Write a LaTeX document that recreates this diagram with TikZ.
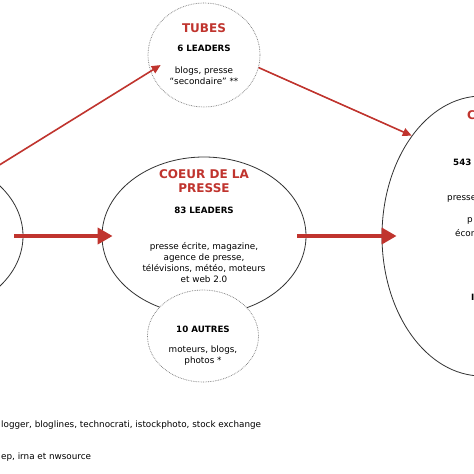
\documentclass[tikz,border=0pt]{standalone}
\usepackage{fontspec}
\setmainfont{DejaVu Sans}
\usepackage{tikz}
\usetikzlibrary{arrows.meta,shapes,calc}
\definecolor{leadred}{RGB}{192,52,46}

\begin{document}
\begin{tikzpicture}[x=1pt, y=-1pt,
        bubble/.style = {ellipse, draw=black!80, line width=0.8pt, inner sep=0pt},
        dotbubble/.style = {ellipse, draw=black!55, densely dotted, line width=0.7pt, fill=white, inner sep=0pt},
        titre/.style = {text=leadred, font=\bfseries\fontsize{12}{13.5}\selectfont, align=center},
        nombre/.style = {font=\bfseries\fontsize{8.7}{10}\selectfont},
        liste/.style = {font=\fontsize{8.8}{11}\selectfont, align=center},
        grosse/.style = {draw=leadred, line width=4pt, -{Triangle[length=15pt,width=16pt]}},
        fine/.style = {draw=leadred, line width=1.6pt, -{Triangle[length=9pt,width=8pt]}}]
          	 \useasboundingbox (0,0) rectangle (474,474);
          	 \clip (0,0) rectangle (474,474);
          	 \fill[white] (0,0) rectangle (474,474);

          	 % les bulles
          	 \node[bubble, minimum width=204pt, minimum height=158pt] (source) at (-79,236) {};
          	 \node[bubble, minimum width=204pt, minimum height=158pt] (coeur) at (204,236) {};
          	 \node[bubble, minimum width=200pt, minimum height=280pt] (cible) at (482,236) {};
          	 \node[dotbubble, minimum width=112pt, minimum height=104pt] (tubes) at (204,55) {};
          	 \node[dotbubble, minimum width=111pt, minimum height=92pt] (autres) at (203,336) {};

          	 % textes
          	 \node[titre] (tubes-t) at (204,28) {TUBES};
          	 \node[nombre] (tubes-n) at (204,48) {6 LEADERS};
          	 \node[liste] (tubes-l) at (204,76) {blogs, presse\\``secondaire'' **};

          	 \node[titre] (coeur-t) at (204,181) {COEUR DE LA\\PRESSE};
          	 \node[nombre] (coeur-n) at (204,210) {83 LEADERS};
          	 \node[liste] (coeur-l) at (204,263) {presse écrite, magazine,\\agence de presse,\\télévisions, météo, moteurs\\et web 2.0};

          	 \node[nombre] (autres-n) at (203,329) {10 AUTRES};
          	 \node[liste] (autres-l) at (203,356) {moteurs, blogs,\\photos *};

          	 \node[titre, anchor=west, inner sep=0pt] (cible-t) at (467,115) {C};
          	 \node[nombre, anchor=west, inner sep=0pt] (cible-n) at (453,162) {543};
          	 \node[liste, anchor=west, inner sep=0pt] (cible-a) at (447,199) {presse};
          	 \node[liste, anchor=west, inner sep=0pt] (cible-b) at (467,221) {p};
          	 \node[liste, anchor=west, inner sep=0pt] (cible-c) at (455,233) {écon};
          	 \node[nombre, anchor=west, inner sep=0pt] (cible-d) at (471,297) {I};

          	 \node[liste, anchor=west, inner sep=0pt] (note1) at (1,425) {logger, bloglines, technocrati, istockphoto, stock exchange};
          	 \node[liste, anchor=west, inner sep=0pt] (note2) at (1,457) {ep, irna et nwsource};

          	 % fleches
          	 \coordinate (depart) at (-20,177);
          	 \draw[fine, shorten >=-12pt] (depart) -- (tubes.197);
          	 \draw[fine] (tubes.-13) -- (cible.125);
          	 \draw[grosse, shorten <=-9pt, shorten >=-11pt] (source.east) -- (coeur.west);
          	 \draw[grosse, shorten <=-9pt, shorten >=-15pt] (coeur.east) -- (cible.west);
        \end{tikzpicture}
\end{document}
